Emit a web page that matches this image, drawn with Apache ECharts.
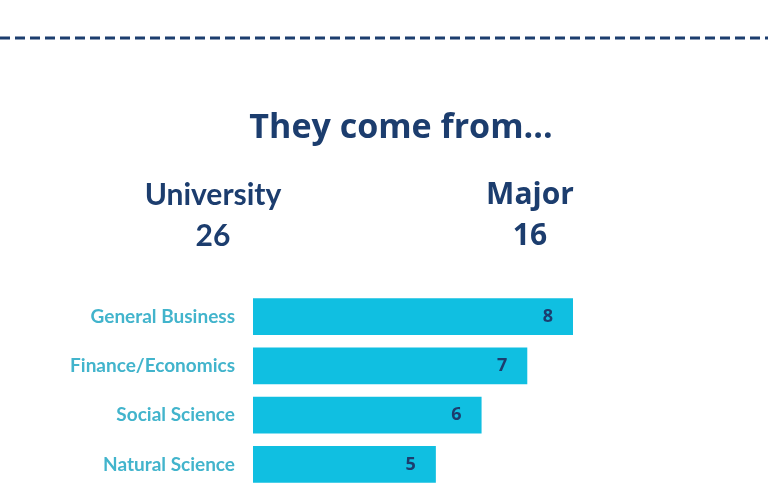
<!DOCTYPE html>
<html>
<head>
<meta charset="utf-8">
<script src="https://cdn.jsdelivr.net/npm/echarts@6/dist/echarts.min.js"></script>
<style>
  html, body { margin: 0; padding: 0; background: #fff; }
  #chart { width: 768px; height: 490px; }
</style>
</head>
<body>
<div id="chart"></div>
<script>
const categories = ['General Business', 'Finance/Economics', 'Social Science', 'Natural Science']
const counts = [8, 7, 6, 5]
const summaryLabels = ['University', 'Major']
const summaryValues = [26, 16]

const navy = '#1c3d6e'

const chart = echarts.init(document.getElementById('chart'))

const option = {
  backgroundColor: '#fff',
  title: [
    {
      text: 'They come from...',
      left: 396,
      top: 106,
      textAlign: 'center',
      textStyle: { color: navy, fontSize: 34, fontWeight: 'bold', fontFamily: 'Open Sans' }
    },
    {
      text: summaryLabels[0] + '\n' + summaryValues[0],
      left: 208,
      top: 170,
      textAlign: 'center',
      textStyle: { color: navy, fontSize: 30, fontWeight: 'bold', fontFamily: 'Lato', lineHeight: 41, align: 'center' }
    },
    {
      text: summaryLabels[1] + '\n' + summaryValues[1],
      left: 525,
      top: 170,
      textAlign: 'center',
      textStyle: { color: navy, fontSize: 30, fontWeight: 'bold', fontFamily: 'Open Sans', lineHeight: 41, align: 'center' }
    }
  ],
  graphic: [{
    type: 'line',
    shape: { x1: 0, y1: 38, x2: 768, y2: 38 },
    style: { stroke: navy, lineWidth: 3, lineDash: [10, 5] }
  }],
  grid: {
    left: 253,
    right: 195,
    top: 292,
    bottom: 1,
    containLabel: false
  },
  xAxis: {
    type: 'value',
    min: 1,
    max: 8,
    show: false
  },
  yAxis: {
    type: 'category',
    inverse: true,
    data: categories,
    axisLine: { show: false },
    axisTick: { show: false },
    axisLabel: {
      margin: 18,
      color: '#42b4cc',
      fontSize: 19,
      fontFamily: 'Lato',
      fontWeight: 'bold'
    }
  },
  series: [{
    type: 'bar',
    data: counts,
    barCategoryGap: '25%',
    itemStyle: { color: '#10bfe1' },
    label: {
      show: true,
      position: 'insideRight',
      distance: 20,
      color: navy,
      fontSize: 18,
      fontWeight: 'bold',
      fontFamily: 'Open Sans'
    }
  }]
}

chart.setOption(option)
</script>
</body>
</html>
